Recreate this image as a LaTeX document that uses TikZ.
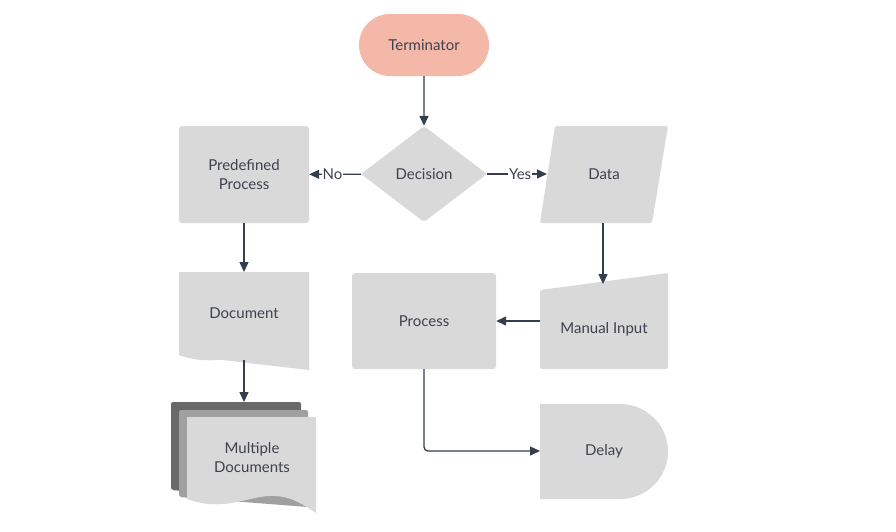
\documentclass[tikz,border=0pt]{standalone}
\usepackage{fontspec}
\setmainfont{Lato}
\usetikzlibrary{shapes.geometric,shapes.misc,arrows.meta}
\definecolor{boxgray}{RGB}{217,217,217}
\definecolor{termfill}{RGB}{244,184,168}
\definecolor{linecol}{RGB}{52,62,76}
\definecolor{txtcol}{RGB}{62,66,78}
\definecolor{dark1}{RGB}{105,105,105}
\definecolor{dark2}{RGB}{160,160,160}
\begin{document}
\begin{tikzpicture}[x=1pt,y=-1pt,
  lbl/.style={text=txtcol,font=\fontsize{15}{19}\selectfont,align=center,inner sep=0pt},
  box/.style={fill=boxgray,draw=none,rounded corners=3pt,minimum width=#1,inner sep=0pt},
  conn/.style={draw=linecol,line width=1.3pt,-{Triangle[length=10pt,width=9pt]}}]
\useasboundingbox (0,0) rectangle (896,531);
\fill[white] (0,0) rectangle (896,531);

% Terminator
\node[rounded rectangle,fill=termfill,minimum width=130pt,minimum height=62pt,lbl] (term) at (424,45) {Terminator};
% Decision
\node[diamond,fill=boxgray,minimum width=126pt,minimum height=96pt,inner sep=0pt,lbl,rounded corners=2pt] (dec) at (424,174) {Decision};
% Predefined process
\node[box=130pt,minimum height=97pt,lbl] (pre) at (244,174.5) {Predefined\\Process};
% Data
\fill[boxgray,rounded corners=2pt] (555,126) -- (668,126) -- (652,223) -- (540,223) -- cycle;
\node[lbl] (data) at (604,174) {Data};
\coordinate (dataL) at (547,174);
\coordinate (dataB) at (603,223);
% Document
\fill[boxgray,rounded corners=2pt] (179,355) -- (179,272) -- (309,272) -- (309,370);
\fill[boxgray] (179,272) -- (309,272) -- (309,369)
  .. controls (295,360) and (283,351) .. (262,352) .. controls (240,353) and (215,368) .. (179,355) -- cycle;
\node[lbl] (doc) at (244,313) {Document};
\coordinate (docT) at (244,272);
\coordinate (docB) at (244,360);
% Multiple documents
\fill[dark1,rounded corners=2pt] (171,490) -- (171,402) -- (301,402) -- (301,500) -- cycle;
\fill[dark2,rounded corners=2pt] (179,497) -- (179,410) -- (308,410) -- (308,507) -- cycle;
\fill[boxgray] (187,417) -- (316,417) -- (316,513)
  .. controls (302,504) and (290,495) .. (269,496) .. controls (247,497) and (222,512) .. (187,499) -- cycle;
\node[lbl] (mdoc) at (252,458) {Multiple\\Documents};
\coordinate (mdocT) at (244,402);
% Process
\node[box=144pt,minimum height=96pt,lbl] (proc) at (424,321) {Process};
% Manual input
\fill[boxgray,rounded corners=2pt] (540,290) -- (668,273) -- (668,369) -- (540,369) -- cycle;
\node[lbl] (man) at (604,329) {Manual Input};
\coordinate (manT) at (603,284);
\coordinate (manL) at (540,321);
% Delay
\fill[boxgray] (540,404) -- (620,404) .. controls (646.5,404) and (668,425.3) .. (668,451.5)
  .. controls (668,477.7) and (646.5,499) .. (620,499) -- (540,499) -- cycle;
\node[lbl] (delay) at (604,451) {Delay};
\coordinate (delL) at (540,451);

% Connectors
\draw[conn] (term) -- (dec);
\draw[conn] (dec) -- node[lbl,fill=white,inner xsep=1pt,pos=0.55] {No} (pre);
\draw[conn] (dec) -- node[lbl,fill=white,inner xsep=1pt,pos=0.55] {Yes} (dataL);
\draw[conn] (pre) -- (docT);
\draw[conn] (docB) -- (mdocT);
\draw[conn] (dataB) -- (manT);
\draw[conn] (manL) -- (proc);
\draw[conn,rounded corners=4pt] (proc.south) |- (delL);
\end{tikzpicture}
\end{document}
